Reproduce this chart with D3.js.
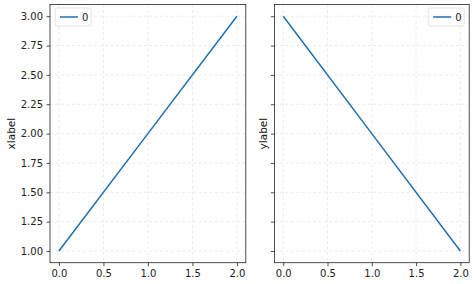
<!DOCTYPE html>
<html>
<head>
<meta charset="utf-8">
<script src="https://cdn.jsdelivr.net/npm/d3@7"></script>
<style>
  body { margin: 0; background: #fff; }
  svg { display: block; font-family: 'DejaVu Sans', sans-serif; }
</style>
</head>
<body>
<svg id="chart" width="474" height="284"></svg>
<script>
// data: two series, one per panel
var xs = [0, 1, 2];
var left = [1, 2, 3];
var right = [3, 2, 1];
var seriesName = '0';
var xTicks = [0, 0.5, 1, 1.5, 2];
var yTicks = [1, 1.25, 1.5, 1.75, 2, 2.25, 2.5, 2.75, 3];

var svg = d3.select('#chart');
var top0 = 4.5, bottom0 = 262.7;
var yS = d3.scaleLinear().domain([0.9, 3.1]).range([bottom0, top0]);

function panel(x0, x1, ys, label, showYLabels, legendRight) {
  var xS = d3.scaleLinear().domain([-0.1, 2.1]).range([x0, x1]);
  var g = svg.append('g');

  // grid
  g.append('g').selectAll('line').data(xTicks).enter().append('line')
    .attr('x1', (d) => xS(d)).attr('x2', (d) => xS(d))
    .attr('y1', top0).attr('y2', bottom0)
    .attr('stroke', '#e6e6e6').attr('stroke-width', 0.8).attr('stroke-dasharray', '3,2.5');
  g.append('g').selectAll('line').data(yTicks).enter().append('line')
    .attr('x1', x0).attr('x2', x1)
    .attr('y1', (d) => yS(d)).attr('y2', (d) => yS(d))
    .attr('stroke', '#e6e6e6').attr('stroke-width', 0.8).attr('stroke-dasharray', '3,2.5');

  // line
  var ln = d3.line().x((d, i) => xS(xs[i])).y((d) => yS(d));
  g.append('path').attr('d', ln(ys))
    .attr('fill', 'none').attr('stroke', '#1f6fb0').attr('stroke-width', 1.5);

  // axes
  var ax = g.append('g').attr('transform', 'translate(0,' + bottom0 + ')')
    .call(d3.axisBottom(xS).tickValues(xTicks).tickFormat(d3.format('.1f')).tickSize(3.5).tickPadding(3.5));
  var ay = g.append('g').attr('transform', 'translate(' + x0 + ',0)')
    .call(d3.axisLeft(yS).tickValues(yTicks).tickFormat(showYLabels ? d3.format('.2f') : '').tickSize(3.5).tickPadding(3.5));
  [ax, ay].forEach((a) => {
    a.select('.domain').remove();
    a.selectAll('line').attr('stroke', '#222').attr('stroke-width', 0.8);
    a.selectAll('text').attr('font-size', 10).attr('fill', '#222').attr('font-family', 'DejaVu Sans');
  });

  // frame
  g.append('rect').attr('x', x0).attr('y', top0)
    .attr('width', x1 - x0).attr('height', bottom0 - top0)
    .attr('fill', 'none').attr('stroke', '#222').attr('stroke-width', 0.8);

  // y label
  var lx = showYLabels ? 15 : x0 - 7.5;
  g.append('text').attr('transform', 'translate(' + lx + ',' + (top0 + bottom0) / 2 + ') rotate(-90)')
    .attr('text-anchor', 'middle').attr('font-size', 10.5).attr('fill', '#111').text(label);

  // legend
  var lw = 36, lh = 18;
  var bx = legendRight ? x1 - 5 - lw : x0 + 5;
  var lg = g.append('g').attr('transform', 'translate(' + bx + ',' + (top0 + 3.5) + ')');
  lg.append('rect').attr('width', lw).attr('height', lh).attr('rx', 2)
    .attr('fill', 'rgba(255,255,255,0.8)').attr('stroke', '#dddddd').attr('stroke-width', 0.8);
  lg.append('line').attr('x1', 5).attr('x2', 23).attr('y1', lh / 2).attr('y2', lh / 2)
    .attr('stroke', '#1f6fb0').attr('stroke-width', 1.5);
  lg.append('text').attr('x', 27).attr('y', lh / 2 + 3.5).attr('font-size', 10).attr('fill', '#222').text(seriesName);
}

panel(50, 245.8, left, 'xlabel', true, false);
panel(274.4, 469.2, right, 'ylabel', false, true);
</script>
</body>
</html>
